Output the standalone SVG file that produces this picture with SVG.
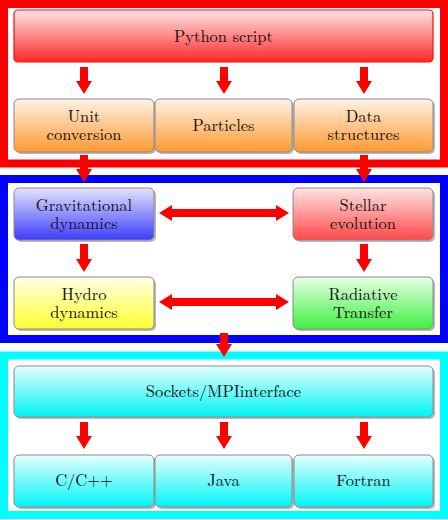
<svg xmlns="http://www.w3.org/2000/svg" width="448" height="520" viewBox="0 0 448 520">
<style>
.frame{fill:none;stroke-width:8}
.box{stroke:#8a8a8a;stroke-width:1}
.shadow{fill:#9a9a9a;opacity:0.7}
.t{font-family:"Latin Modern Roman","Liberation Serif","Times New Roman",serif;font-size:16.5px;fill:#111;text-anchor:middle}
.arr{stroke:#ff0000;stroke-width:8;fill:none}
</style>
<defs>
<linearGradient id="gPy" x1="0" y1="0" x2="0" y2="1"><stop offset="0" stop-color="#ffe4e4"/><stop offset="1" stop-color="#ff2828"/></linearGradient>
<linearGradient id="gOr" x1="0" y1="0" x2="0" y2="1"><stop offset="0" stop-color="#fff2e6"/><stop offset="1" stop-color="#ff9a30"/></linearGradient>
<linearGradient id="gBl" x1="0" y1="0" x2="0" y2="1"><stop offset="0" stop-color="#e4e4ff"/><stop offset="1" stop-color="#3c3cff"/></linearGradient>
<linearGradient id="gYe" x1="0" y1="0" x2="0" y2="1"><stop offset="0" stop-color="#ffffe6"/><stop offset="1" stop-color="#ffff30"/></linearGradient>
<linearGradient id="gSt" x1="0" y1="0" x2="0" y2="1"><stop offset="0" stop-color="#ffe4e4"/><stop offset="1" stop-color="#ff4848"/></linearGradient>
<linearGradient id="gGr" x1="0" y1="0" x2="0" y2="1"><stop offset="0" stop-color="#e6ffe6"/><stop offset="1" stop-color="#40f040"/></linearGradient>
<linearGradient id="gCy" x1="0" y1="0" x2="0" y2="1"><stop offset="0" stop-color="#e6ffff"/><stop offset="1" stop-color="#00f4f4"/></linearGradient>
<marker id="ah" viewBox="0 0 13 16" markerWidth="13" markerHeight="16" refX="1" refY="8" orient="auto-start-reverse" markerUnits="userSpaceOnUse"><path d="M0,0 L13,8 L0,16 z" fill="#ff0000"/></marker>
</defs>

<g id="frames">
<rect class="frame" x="4" y="4" width="440" height="159.5" stroke="#ff0000"/>
<rect class="frame" x="4" y="179" width="440" height="160" stroke="#0000ff"/>
<rect class="frame" x="4" y="355.5" width="440" height="159.5" stroke="#00ffff"/>
</g>

<g id="python">
<rect x="14" y="10" width="419" height="52" rx="4" fill="url(#gPy)" stroke="#ff0a0a" stroke-width="1.2"/>
<text class="t" x="223.5" y="42">Python script</text>
</g>

<g id="unit">
<rect class="shadow" x="16" y="101" width="140" height="53" rx="5"/>
<rect class="box" x="14" y="99" width="140" height="53" rx="5" fill="url(#gOr)"/>
<text class="t" x="84" y="121.5"><tspan x="84">Unit</tspan><tspan x="84" dy="18.5">conversion</tspan></text>
</g>
<g id="particles">
<rect class="shadow" x="157" y="101" width="137" height="53" rx="5"/>
<rect class="box" x="155" y="99" width="137" height="53" rx="5" fill="url(#gOr)"/>
<text class="t" x="223.5" y="131">Particles</text>
</g>
<g id="data">
<rect class="shadow" x="296" y="101" width="139" height="53" rx="5"/>
<rect class="box" x="294" y="99" width="139" height="53" rx="5" fill="url(#gOr)"/>
<text class="t" x="363.5" y="121.5"><tspan x="363.5">Data</tspan><tspan x="363.5" dy="18.5">structures</tspan></text>
</g>

<g id="grav">
<rect class="shadow" x="16" y="190" width="140" height="52" rx="5"/>
<rect class="box" x="14" y="188" width="140" height="52" rx="5" fill="url(#gBl)"/>
<text class="t" x="84" y="210.5"><tspan x="84">Gravitational</tspan><tspan x="84" dy="18.5">dynamics</tspan></text>
</g>
<g id="hydro">
<rect class="shadow" x="16" y="279" width="140" height="52" rx="5"/>
<rect class="box" x="14" y="277" width="140" height="52" rx="5" fill="url(#gYe)"/>
<text class="t" x="84" y="299.5"><tspan x="84">Hydro</tspan><tspan x="84" dy="18.5">dynamics</tspan></text>
</g>
<g id="stellar">
<rect class="shadow" x="295" y="190" width="140" height="52" rx="5"/>
<rect class="box" x="293" y="188" width="140" height="52" rx="5" fill="url(#gSt)"/>
<text class="t" x="363" y="210.5"><tspan x="363">Stellar</tspan><tspan x="363" dy="18.5">evolution</tspan></text>
</g>
<g id="radiative">
<rect class="shadow" x="295" y="279" width="140" height="52" rx="5"/>
<rect class="box" x="293" y="277" width="140" height="52" rx="5" fill="url(#gGr)"/>
<text class="t" x="363" y="299.5"><tspan x="363">Radiative</tspan><tspan x="363" dy="18.5">Transfer</tspan></text>
</g>

<g id="sockets">
<rect class="shadow" x="16" y="368" width="419" height="51" rx="5"/>
<rect class="box" x="14" y="366" width="419" height="51" rx="5" fill="url(#gCy)"/>
<text class="t" x="223.5" y="397">Sockets/MPIinterface</text>
</g>
<g id="cpp">
<rect class="shadow" x="16" y="457" width="140" height="52" rx="5"/>
<rect class="box" x="14" y="455" width="140" height="52" rx="5" fill="url(#gCy)"/>
<text class="t" x="84" y="486">C/C++</text>
</g>
<g id="java">
<rect class="shadow" x="157" y="457" width="137" height="52" rx="5"/>
<rect class="box" x="155" y="455" width="137" height="52" rx="5" fill="url(#gCy)"/>
<text class="t" x="223.5" y="486">Java</text>
</g>
<g id="fortran">
<rect class="shadow" x="296" y="457" width="139" height="52" rx="5"/>
<rect class="box" x="294" y="455" width="139" height="52" rx="5" fill="url(#gCy)"/>
<text class="t" x="363.5" y="486">Fortran</text>
</g>

<g id="connectors">
<line class="arr" x1="84" y1="67" x2="84" y2="82" marker-end="url(#ah)"/>
<line class="arr" x1="224" y1="67" x2="224" y2="82" marker-end="url(#ah)"/>
<line class="arr" x1="364" y1="67" x2="364" y2="82" marker-end="url(#ah)"/>
<line class="arr" x1="84" y1="155" x2="84" y2="170" marker-end="url(#ah)"/>
<line class="arr" x1="364" y1="155" x2="364" y2="170" marker-end="url(#ah)"/>
<line class="arr" x1="171" y1="213" x2="277" y2="213" marker-start="url(#ah)" marker-end="url(#ah)"/>
<line class="arr" x1="171" y1="302" x2="277" y2="302" marker-start="url(#ah)" marker-end="url(#ah)"/>
<line class="arr" x1="84" y1="244" x2="84" y2="260" marker-end="url(#ah)"/>
<line class="arr" x1="364" y1="244" x2="364" y2="260" marker-end="url(#ah)"/>
<line class="arr" x1="224" y1="333" x2="224" y2="345" marker-end="url(#ah)"/>
<line class="arr" x1="84" y1="422" x2="84" y2="437" marker-end="url(#ah)"/>
<line class="arr" x1="224" y1="422" x2="224" y2="437" marker-end="url(#ah)"/>
<line class="arr" x1="364" y1="422" x2="364" y2="437" marker-end="url(#ah)"/>
</g>
</svg>
